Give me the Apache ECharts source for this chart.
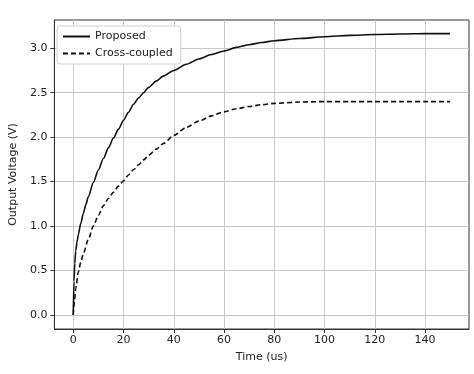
<!DOCTYPE html>
<html>
<head>
<meta charset="utf-8">
<script src="https://cdn.jsdelivr.net/npm/echarts@6/dist/echarts.min.js"></script>
<style>
html,body{margin:0;padding:0;background:#fff;}
#chart{width:474px;height:374px;}
</style>
</head>
<body>
<div id="chart"></div>
<script>
// Time (us) and output voltage (V)
var proposedTime = [0,0.3,0.6,1,1.5,2,3,4,5,6,8,10,12,14,16,18,20,22,24,26,28,30,33,36,40,45,50,55,60,65,70,75,80,90,100,110,120,130,140,150];
var proposedVolt = [0,0.38,0.58,0.72,0.82,0.9,1.03,1.14,1.24,1.33,1.49,1.63,1.76,1.88,1.99,2.09,2.19,2.28,2.37,2.44,2.5,2.56,2.63,2.69,2.75,2.82,2.88,2.93,2.97,3.01,3.04,3.065,3.085,3.11,3.13,3.145,3.155,3.16,3.165,3.165];
var crossTime = [0,0.5,1,2,3,4,6,8,10,12,14,16,18,20,22,24,26,28,30,33,36,40,45,50,55,60,65,70,75,80,90,100,110,120,130,140,150];
var crossVolt = [0,0.16,0.3,0.48,0.59,0.69,0.85,1.0,1.12,1.23,1.31,1.38,1.45,1.51,1.575,1.635,1.69,1.745,1.795,1.865,1.93,2.02,2.11,2.18,2.24,2.285,2.32,2.345,2.365,2.38,2.395,2.4,2.4,2.4,2.4,2.4,2.4];
var xTicks = [0,20,40,60,80,100,120,140];
var yTicks = [0,0.5,1.0,1.5,2.0,2.5,3.0];
var seriesNames = ['Proposed','Cross-coupled'];

function pairs(xs, ys){ return xs.map(function(x,i){ return [x, ys[i]]; }); }

var font = 'DejaVu Sans';
var chart = echarts.init(document.getElementById('chart'));
chart.setOption({
  animation: false,
  backgroundColor: '#fff',
  textStyle: {fontFamily: font},
  grid: {left: 52, top: 20, right: 5, bottom: 45, show: true, borderColor: '#333', borderWidth: 1, backgroundColor: 'transparent'},
  legend: {
    left: 57, top: 26, orient: 'vertical',
    data: seriesNames,
    itemWidth: 27, itemHeight: 10, itemGap: 6,
    backgroundColor: '#fff', borderColor: '#d0d0d0', borderWidth: 1, borderRadius: 3,
    padding: [5, 8, 5, 5],
    itemStyle: {opacity: 0},
    textStyle: {fontFamily: font, fontSize: 11, color: '#222'}
  },
  xAxis: {
    type: 'value', min: -7.5, max: 157.5,
    name: 'Time (us)', nameLocation: 'middle', nameGap: 23,
    nameTextStyle: {fontFamily: font, fontSize: 11, color: '#222'},
    axisLine: {show: true, onZero: false, lineStyle: {color: '#333', width: 1}},
    axisTick: {show: true, inside: false, length: 4, customValues: xTicks, lineStyle: {color: '#333'}},
    axisLabel: {customValues: xTicks, margin: 6, fontFamily: font, fontSize: 11, color: '#222', formatter: function(v){ return String(v); }},
    splitLine: {show: true, lineStyle: {color: '#c8c8c8', width: 1}}
  },
  yAxis: {
    type: 'value', min: -0.158, max: 3.318,
    name: 'Output Voltage (V)', nameLocation: 'middle', nameGap: 33, nameRotate: 90,
    nameTextStyle: {fontFamily: font, fontSize: 11, color: '#222'},
    axisLine: {show: true, onZero: false, lineStyle: {color: '#333', width: 1}},
    axisTick: {show: true, inside: false, length: 4, customValues: yTicks, lineStyle: {color: '#333'}},
    axisLabel: {customValues: yTicks, margin: 7, fontFamily: font, fontSize: 11, color: '#222', formatter: function(v){ return v.toFixed(1); }},
    splitLine: {show: true, lineStyle: {color: '#c8c8c8', width: 1}}
  },
  series: [
    {name: seriesNames[0], type: 'line', data: pairs(proposedTime, proposedVolt), symbol: 'none', smooth: 0.25, smoothMonotone: 'x',
     lineStyle: {color: '#111', width: 1.6, type: 'solid'}, itemStyle: {color: '#111'}},
    {name: seriesNames[1], type: 'line', data: pairs(crossTime, crossVolt), symbol: 'none', smooth: 0.25, smoothMonotone: 'x',
     lineStyle: {color: '#111', width: 1.6, type: [5, 3]}, itemStyle: {color: '#111'}}
  ]
});
</script>
</body>
</html>
